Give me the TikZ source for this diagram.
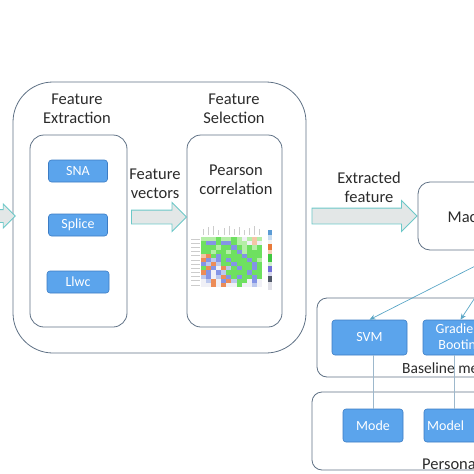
\documentclass[tikz,border=0pt]{standalone}
\usepackage{fontspec}
\setmainfont{Carlito}
\usetikzlibrary{shapes.arrows,arrows.meta}
\definecolor{boxline}{HTML}{5F7185}
\definecolor{btnfill}{HTML}{5BA4EC}
\definecolor{btnline}{HTML}{3C7CC4}
\definecolor{arrfill}{HTML}{E3E7E7}
\definecolor{arrline}{HTML}{6CC8C8}
\definecolor{conn}{HTML}{5AA6C6}
\definecolor{vline}{HTML}{9DB8CC}
\definecolor{txt}{HTML}{2B2B2B}
\definecolor{hmL}{HTML}{B4EEA6}
\definecolor{hmG}{HTML}{6EE060}
\definecolor{hmB}{HTML}{8494E6}
\definecolor{hmO}{HTML}{EC8C58}
\definecolor{hmW}{HTML}{F0F0F6}
\definecolor{hmP}{HTML}{BCC8EE}
\definecolor{hmR}{HTML}{F4C6A6}
\begin{document}
\begin{tikzpicture}[x=1pt,y=-1pt,
  panel/.style={draw=boxline, line width=0.8pt, rounded corners=#1, inner sep=0pt},
  panel/.default=12pt,
  btn/.style={draw=btnline, fill=btnfill, line width=0.6pt, rounded corners=3pt, text=white, font=\fontsize{14}{16}\selectfont, align=center, inner sep=0pt},
  blk/.style={single arrow, draw=arrline, fill=arrfill, line width=0.9pt, inner xsep=0pt, single arrow tip angle=90, single arrow head indent=0pt},
  ttl/.style={font=\fontsize{16.5}{19}\selectfont, align=center, text=txt, inner sep=0pt},
  conarrow/.style={draw=conn, line width=0.7pt, -{Stealth[length=6pt,width=5pt]}},
  vconn/.style={draw=vline, line width=0.7pt}]
\useasboundingbox (0,0) rectangle (474,474);
\clip (0,0) rectangle (474,474);

% outer container and inner panels
\node[panel=40pt, minimum width=293pt, minimum height=271pt] (outer) at (159.5,217.5) {};
\node[panel=14pt, minimum width=97pt, minimum height=192pt] (fe) at (78.5,231) {};
\node[panel=14pt, minimum width=95pt, minimum height=192pt] (fs) at (234.5,231) {};
\node[ttl] (fetitle) at (77,108.5) {Feature\\Extraction};
\node[ttl] (fstitle) at (234,108.5) {Feature\\Selection};

% feature extraction buttons
\node[btn, minimum width=59pt, minimum height=22pt] (sna) at (78,171) {SNA};
\node[btn, minimum width=59pt, minimum height=22pt] (splice) at (78,225) {Splice};
\node[btn, minimum width=62pt, minimum height=22pt] (llwc) at (78,282) {Llwc};

% Pearson
\node[ttl] (pearson) at (236,179.5) {Pearson\\correlation};

% heatmap
\foreach \r/\cl in {
 1/{L,L,L,G,L,L,G,L,W,L,R,L},
 2/{G,B,B,G,B,B,G,L,L,W,R,W},
 3/{G,G,G,L,G,G,B,G,L,G,L,G},
 4/{G,G,L,G,G,L,G,B,L,G,G,G},
 5/{R,O,G,B,G,G,G,G,B,G,G,G},
 6/{O,B,P,B,G,B,G,G,G,B,G,L},
 7/{B,P,O,P,G,G,B,G,G,G,B,G},
 8/{G,O,B,W,O,P,G,B,G,G,B,G},
 9/{O,B,W,B,P,G,G,G,G,B,G,G},
 10/{P,B,W,P,O,B,G,B,G,G,B,G},
 11/{W,P,O,W,B,O,P,G,G,W,B,W},
 12/{W,W,O,W,O,W,W,G,W,W,P,W}}{
  \foreach \c [count=\j from 0] in \cl {
    \fill[hm\c] ({201+\j*5.08},{237+(\r-1)*4.17}) rectangle ++(5.08,4.17);
  }
  \draw[gray!40, line width=0.6pt] (191,{239+(\r-1)*4.17}) -- (200,{239+(\r-1)*4.17});
}
\foreach \j/\h in {0/6,1/8,2/9,3/5,4/7,5/9,6/6,7/8,8/5,9/7,10/9,11/6}{
  \draw[gray!40, line width=0.6pt] ({203.5+\j*5.08},235) -- ({203.5+\j*5.08},{235-\h});
}
\foreach \a/\b/\col in {230/235/5B9BD5,235/240/C8DCF0,240/244/F2F2F2,244/250/E87A3A,250/254/F4D0B8,254/262/40C840,262/266/D0F0D0,266/272/7070D8,272/276/D8D8F0,276/282/505868,282/290/E0E0E8}{
  \definecolor{cb}{HTML}{\col}
  \fill[cb] (268,\a) rectangle (272,\b);
}

% block arrows
\node[blk, inner ysep=6pt, minimum height=40pt, single arrow head extend=5.5pt] (inarrow) at (-8,216) {};
\node[blk, inner ysep=6.5pt, minimum height=55pt, single arrow head extend=7.5pt] (fvarrow) at (155.5,217) {};
\node[blk, inner ysep=7.5pt, minimum height=105pt, single arrow head extend=7.5pt] (efarrow) at (360.5,216) {};
\node[ttl] (fvlabel) at (155,183.5) {Feature\\vectors};
\node[ttl] (eflabel) at (369,187.5) {Extracted\\feature};

% machine learning box
\node[panel=12pt, minimum width=176pt, minimum height=68pt] (ml) at (506,216) {};
\node[ttl] (mltext) at (506,218) {Machine learning};

% baseline methods
\node[panel=10pt, minimum width=280pt, minimum height=79pt] (base) at (457,337.5) {};
\node[ttl, font=\fontsize{15.5}{19}\selectfont, anchor=west] (basetext) at (402,368) {Baseline methods};
\node[btn, minimum width=75pt, minimum height=35pt] (svm) at (369.5,337.5) {SVM};
\node[btn, minimum width=75pt, minimum height=35pt] (grad) at (460.5,337.5) {Gradient\\Booting};

% persona
\node[panel=10pt, minimum width=290pt, minimum height=78pt] (pers) at (457,431) {};
\node[ttl, anchor=west] (perstext) at (422,464) {Persona};
\node[btn, minimum width=60pt, minimum height=33pt] (mode) at (373,425.5) {Mode};
\node[btn, minimum width=60pt, minimum height=33pt] (model) at (454,425.5) {};
\node[font=\fontsize{14}{16}\selectfont, text=white, anchor=west, inner sep=0pt] (modeltext) at (427,425.5) {Model};

% connectors
\draw[conarrow] (ml.south) -- (svm.north);
\draw[conarrow] (ml.south) -- (grad.north);
\draw[vconn] (svm.south -| mode.north) -- (mode.north);
\draw[vconn] (model.north |- grad.south) -- (model.north);
\end{tikzpicture}
\end{document}
